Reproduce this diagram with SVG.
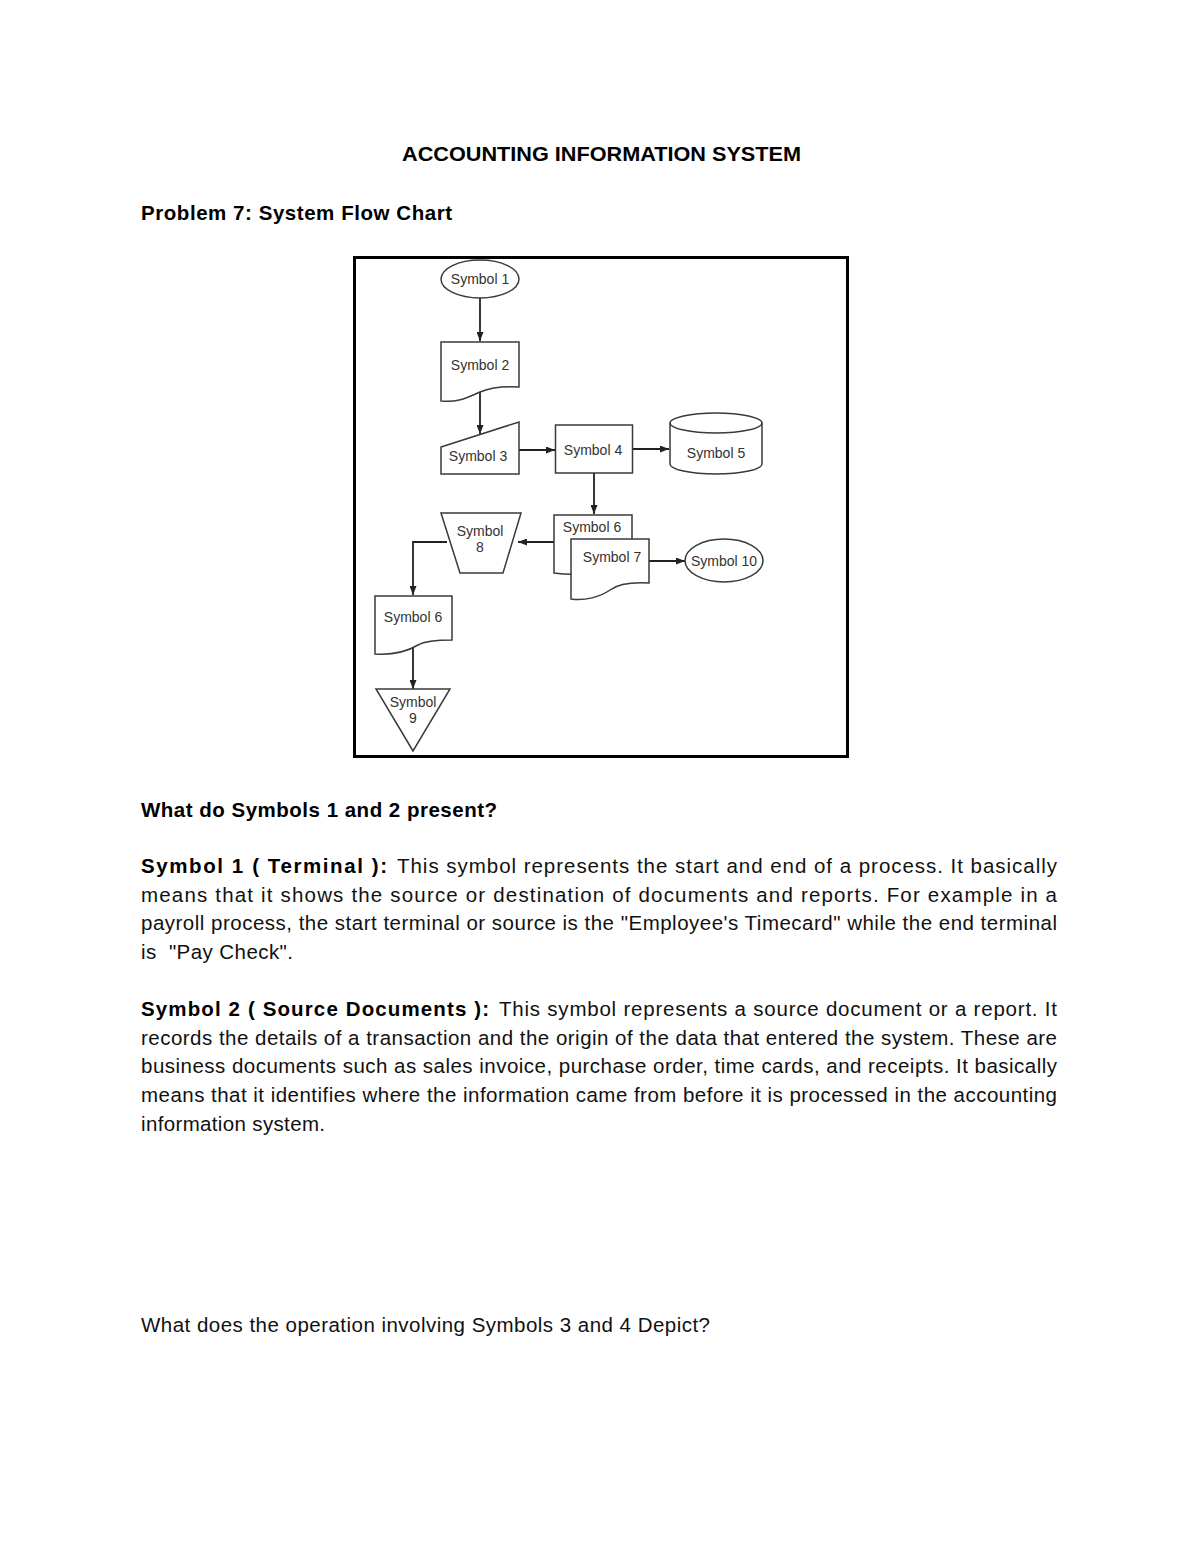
<svg xmlns="http://www.w3.org/2000/svg" width="1200" height="1553" viewBox="0 0 1200 1553">
<style>
.t{font-family:"Liberation Sans",Arial,sans-serif;fill:#111;font-size:20.5px}
.b{font-weight:bold;fill:#000}
.s{font-family:"Liberation Sans",Arial,sans-serif;fill:#333;font-size:14px;text-anchor:middle}
.sh{fill:#fff;stroke:#3a3a3a;stroke-width:1.5}
.c{fill:none;stroke:#222;stroke-width:1.8}
</style>
<defs>
<marker id="ah" markerWidth="9" markerHeight="7" refX="9" refY="3.5" orient="auto" markerUnits="userSpaceOnUse">
<path d="M0,0 L9,3.5 L0,7 Z" fill="#222"/>
</marker>
</defs>
<rect width="1200" height="1553" fill="#fff"/>

<text class="t b" x="402" y="161" font-size="22" textLength="399" lengthAdjust="spacingAndGlyphs">ACCOUNTING INFORMATION SYSTEM</text>
<text class="t b" x="141" y="220" textLength="311" lengthAdjust="spacing">Problem 7: System Flow Chart</text>

<rect x="354.5" y="257.5" width="493" height="499" fill="none" stroke="#000" stroke-width="3"/>

<g id="connectors">
<line class="c" x1="480" y1="298" x2="480" y2="341" marker-end="url(#ah)"/>
<line class="c" x1="480" y1="392" x2="480" y2="434" marker-end="url(#ah)"/>
<line class="c" x1="519" y1="450" x2="555" y2="450" marker-end="url(#ah)"/>
<line class="c" x1="633" y1="449" x2="669" y2="449" marker-end="url(#ah)"/>
<line class="c" x1="594" y1="473" x2="594" y2="514" marker-end="url(#ah)"/>
<line class="c" x1="649" y1="561" x2="685" y2="561" marker-end="url(#ah)"/>
<line class="c" x1="554" y1="542" x2="518" y2="542" marker-end="url(#ah)"/>
<polyline class="c" points="447,542 413,542 413,595" marker-end="url(#ah)"/>
<line class="c" x1="413" y1="646" x2="413" y2="689" marker-end="url(#ah)"/>
</g>

<g id="symbol1">
<ellipse class="sh" cx="480" cy="279" rx="39" ry="19"/>
<text class="s" x="480" y="284">Symbol 1</text>
</g>
<g id="symbol2">
<path class="sh" d="M441,342 H519 V387 C505,386 492,387 480,392 C470,396 460,403 441,401 Z"/>
<text class="s" x="480" y="370">Symbol 2</text>
</g>
<g id="symbol3">
<polygon class="sh" points="441,447 519,422 519,474 441,474"/>
<text class="s" x="478" y="461">Symbol 3</text>
</g>
<g id="symbol4">
<rect class="sh" x="555.5" y="425" width="77" height="48"/>
<text class="s" x="593" y="455">Symbol 4</text>
</g>
<g id="symbol5">
<path class="sh" d="M670,423 A46,10 0 0 1 762,423 V464 A46,10 0 0 1 670,464 Z"/>
<path class="sh" fill="none" d="M670,423 A46,10 0 0 0 762,423"/>
<text class="s" x="716" y="458">Symbol 5</text>
</g>
<g id="symbol6a">
<path class="sh" d="M554,515 H632 V560 C615,560 605,565 595,570 C585,575 570,575 554,573 Z"/>
<text class="s" x="592" y="532">Symbol 6</text>
</g>
<g id="symbol7">
<path class="sh" d="M571,539 H649 V583 C630,582 618,584 610,590 C600,597 585,601 571,599 Z"/>
<text class="s" x="612" y="562">Symbol 7</text>
</g>
<g id="symbol10">
<ellipse class="sh" cx="724" cy="560.5" rx="39" ry="21.5"/>
<text class="s" x="724" y="566">Symbol 10</text>
</g>
<g id="symbol8">
<polygon class="sh" points="441,513 521,513 503,573 460,573"/>
<text class="s" x="480" y="536">Symbol</text>
<text class="s" x="480" y="552">8</text>
</g>
<g id="symbol6b">
<path class="sh" d="M375,596 H452 V640 C435,640 425,641 418,645 C408,651 392,655 375,654 Z"/>
<text class="s" x="413" y="622">Symbol 6</text>
</g>
<g id="symbol9">
<polygon class="sh" points="376,689 450,689 413,751"/>
<text class="s" x="413" y="707">Symbol</text>
<text class="s" x="413" y="723">9</text>
</g>

<text class="t b" x="141" y="817" textLength="356" lengthAdjust="spacing">What do Symbols 1 and 2 present?</text>

<text class="t b" x="141" y="873" textLength="246" lengthAdjust="spacing">Symbol 1 ( Terminal ):</text>
<text class="t" x="397" y="873" textLength="660" lengthAdjust="spacing">This symbol represents the start and end of a process. It basically</text>
<text class="t" x="141" y="902" textLength="916" lengthAdjust="spacing">means that it shows the source or destination of documents and reports. For example in a</text>
<text class="t" x="141" y="930" textLength="916" lengthAdjust="spacing">payroll process, the start terminal or source is the "Employee's Timecard" while the end terminal</text>
<text class="t" x="141" y="959" textLength="152" lengthAdjust="spacing" xml:space="preserve">is  "Pay Check".</text>

<text class="t b" x="141" y="1016" textLength="348" lengthAdjust="spacing">Symbol 2 ( Source Documents ):</text>
<text class="t" x="499" y="1016" textLength="558" lengthAdjust="spacing">This symbol represents a source document or a report. It</text>
<text class="t" x="141" y="1045" textLength="916" lengthAdjust="spacing">records the details of a transaction and the origin of the data that entered the system. These are</text>
<text class="t" x="141" y="1073" textLength="916" lengthAdjust="spacing">business documents such as sales invoice, purchase order, time cards, and receipts. It basically</text>
<text class="t" x="141" y="1102" textLength="916" lengthAdjust="spacing">means that it identifies where the information came from before it is processed in the accounting</text>
<text class="t" x="141" y="1131" textLength="184" lengthAdjust="spacing">information system.</text>

<text class="t" x="141" y="1332" textLength="569" lengthAdjust="spacing">What does the operation involving Symbols 3 and 4 Depict?</text>
</svg>
